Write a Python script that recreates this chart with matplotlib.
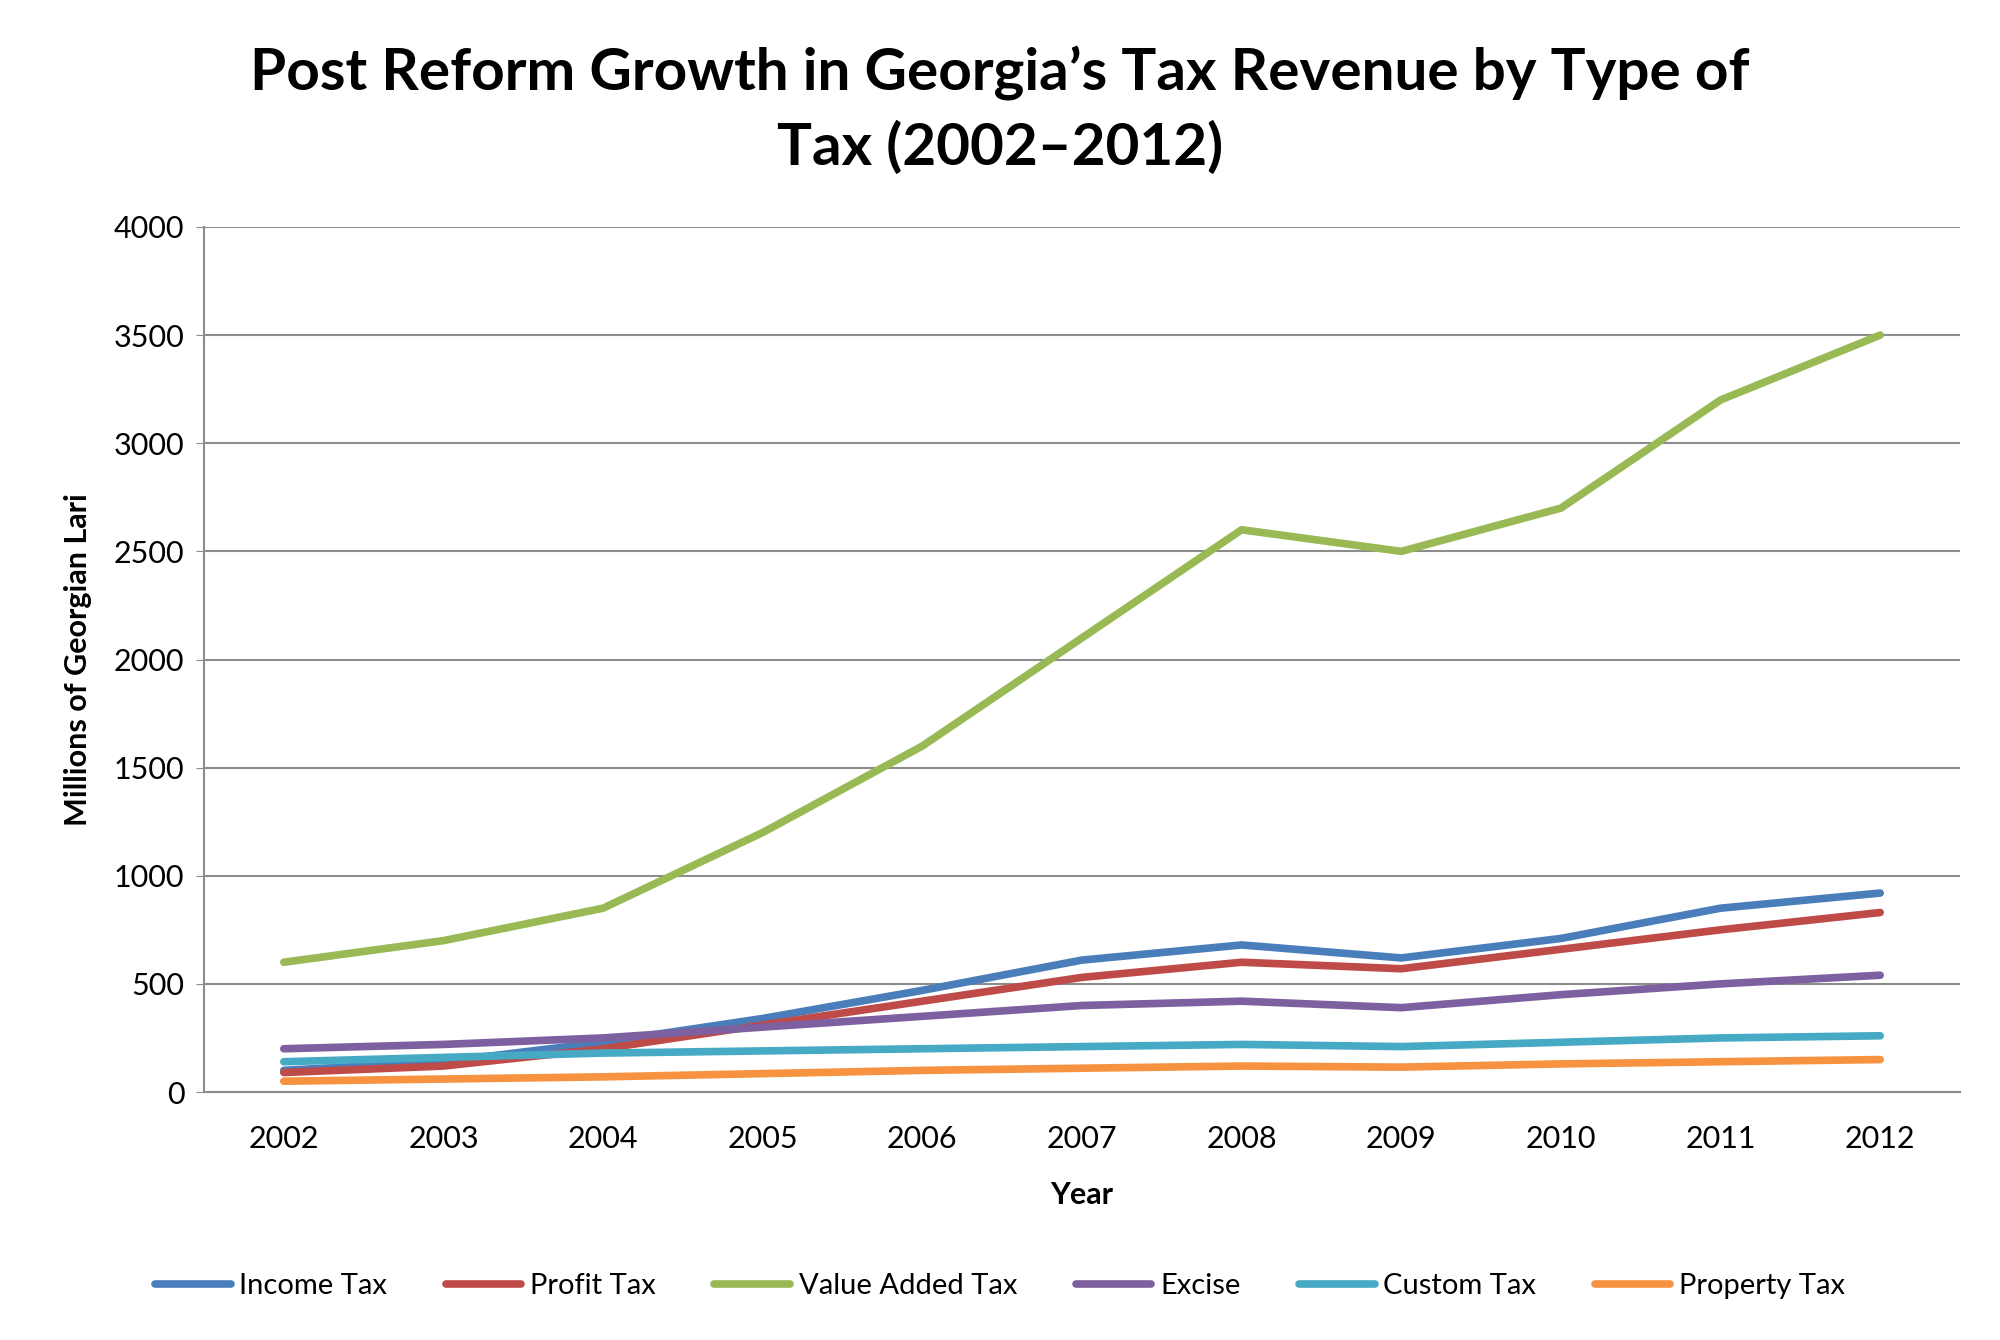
import matplotlib.pyplot as plt
import numpy as np

years = [2002, 2003, 2004, 2005, 2006, 2007, 2008, 2009, 2010, 2011, 2012]
income_tax = [100, 140, 230, 340, 470, 610, 680, 620, 710, 850, 920]
profit_tax = [90, 120, 200, 310, 420, 530, 600, 570, 660, 750, 830]
vat = [600, 700, 850, 1200, 1600, 2100, 2600, 2500, 2700, 3200, 3500]
excise = [200, 220, 250, 300, 350, 400, 420, 390, 450, 500, 540]
custom_tax = [140, 160, 180, 190, 200, 210, 220, 210, 230, 250, 260]
property_tax = [50, 60, 70, 85, 100, 110, 120, 115, 130, 140, 150]

series = [
    ("Income Tax", income_tax, "#4A7EBB"),
    ("Profit Tax", profit_tax, "#BE4B48"),
    ("Value Added Tax", vat, "#98B954"),
    ("Excise", excise, "#7D60A0"),
    ("Custom Tax", custom_tax, "#46AAC5"),
    ("Property Tax", property_tax, "#F69240"),
]

plt.rcParams['font.family'] = ['Lato', 'DejaVu Sans']

fig = plt.figure(figsize=(20, 13.4), dpi=100)
ax = fig.add_axes([204 / 2000, 1 - 1092 / 1340, (1960 - 204) / 2000, (1092 - 227) / 1340])

for name, vals, col in series:
    ax.plot(years, vals, color=col, linewidth=5.5, label=name, solid_capstyle='round')

ax.set_xlim(2001.5, 2012.5)
ax.set_ylim(0, 4000)
ax.set_yticks(np.arange(0, 4001, 500))
ax.set_xticks(years)
ax.grid(axis='y', color='#8c8c8c', linewidth=1.5)
ax.set_axisbelow(True)
for s in ['top', 'right']:
    ax.spines[s].set_visible(False)
for s in ['left', 'bottom']:
    ax.spines[s].set_color('#8c8c8c')
    ax.spines[s].set_linewidth(1.5)
ax.tick_params(axis='y', labelsize=22, length=6, color='#8c8c8c', pad=8)
ax.tick_params(axis='x', labelsize=22, length=0, pad=24)

ax.set_xlabel("Year", fontsize=22, fontweight='bold', labelpad=20)
ax.set_ylabel("Millions of Georgian Lari", fontsize=22, fontweight='bold', labelpad=16)

fig.suptitle("Post Reform Growth in Georgia\u2019s Tax Revenue by Type of\nTax (2002\u20132012)",
             fontsize=42, fontweight='bold', x=0.5, y=0.966, linespacing=1.45)

fig.legend(loc='center', bbox_to_anchor=(0.5, 1 - 1286 / 1340), ncol=6, fontsize=21,
           frameon=False, handlelength=2.6, columnspacing=2.0, handletextpad=0.3)

fig.savefig("out.png", dpi=100)
